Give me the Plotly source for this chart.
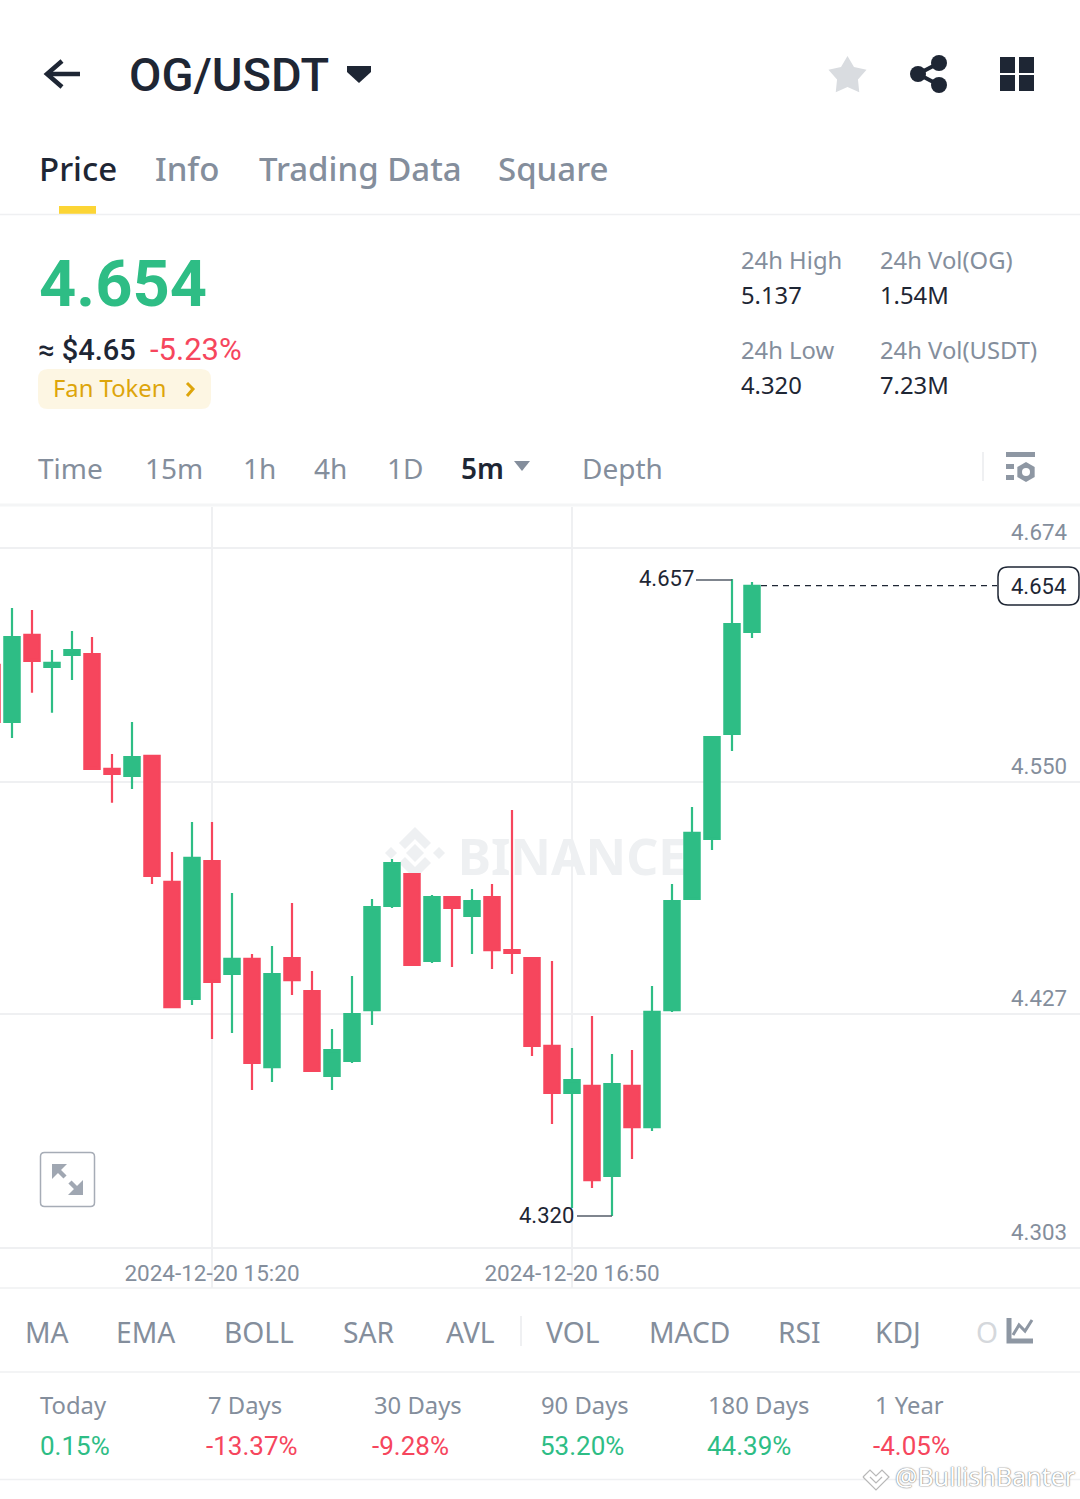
import math
import pandas as pd
import plotly.graph_objects as go

W = 1080
H = 1499

# candles, 5 minute bars
times = pd.date_range("2024-12-20 14:25", periods=39, freq="5min")
opens = [4.6120, 4.5818, 4.6279, 4.6109, 4.6173, 4.6178, 4.5569, 4.5532, 4.5638, 4.4970,
         4.4350, 4.5081, 4.4482, 4.4562, 4.3989, 4.4567, 4.4392, 4.3942, 4.4021, 4.4291,
         4.4843, 4.5012, 4.4551, 4.4890, 4.4790, 4.4890, 4.4609, 4.4567, 4.4101, 4.3852,
         4.3889, 4.3412, 4.3889, 4.3671, 4.4291, 4.4880, 4.5198, 4.5754, 4.6295]
highs = [4.6120, 4.6422, 4.6411, 4.6199, 4.6300, 4.6268, 4.5648, 4.5818, 4.5638, 4.5129,
         4.5288, 4.5288, 4.4912, 4.4588, 4.4631, 4.4859, 4.4498, 4.4191, 4.4472, 4.4880,
         4.5092, 4.5012, 4.4901, 4.4890, 4.4933, 4.4959, 4.5351, 4.4567, 4.4551, 4.4090,
         4.4260, 4.4058, 4.4079, 4.4419, 4.4959, 4.5367, 4.5738, 4.6576, 4.6560]
lows = [4.5818, 4.5733, 4.5972, 4.5866, 4.6040, 4.5569, 4.5389, 4.5463, 4.4959, 4.4307,
        4.4318, 4.4138, 4.4170, 4.3867, 4.3910, 4.4371, 4.3968, 4.3867, 4.4011, 4.4212,
        4.4832, 4.4530, 4.4541, 4.4519, 4.4588, 4.4509, 4.4482, 4.4048, 4.3687, 4.3242,
        4.3348, 4.3200, 4.3502, 4.3650, 4.4281, 4.4880, 4.5139, 4.5664, 4.6263]
closes = [4.5818, 4.6268, 4.6141, 4.6131, 4.6199, 4.5569, 4.5542, 4.5632, 4.5002, 4.4307,
          4.5097, 4.4440, 4.4562, 4.4011, 4.4482, 4.4450, 4.3968, 4.4079, 4.4270, 4.4837,
          4.5070, 4.4530, 4.4890, 4.4832, 4.4869, 4.4609, 4.4594, 4.4101, 4.3852, 4.3920,
          4.3390, 4.3899, 4.3671, 4.4281, 4.4869, 4.5230, 4.5738, 4.6337, 4.6539]

price_ticks = [4.303, 4.427, 4.550, 4.674]
price_labels = ["4.303", "4.427", "4.550", "4.674"]
time_ticks = ["2024-12-20 15:20", "2024-12-20 16:50"]

high_mark = 4.657
low_mark = 4.320
last_price = 4.654

tabs = ["Price", "Info", "Trading Data", "Square"]
intervals = ["Time", "15m", "1h", "4h", "1D", "5m", "Depth"]
indicators = ["MA", "EMA", "BOLL", "SAR", "AVL", "VOL", "MACD", "RSI", "KDJ"]
periods = ["Today", "7 Days", "30 Days", "90 Days", "180 Days", "1 Year"]
period_changes = ["0.15%", "-13.37%", "-9.28%", "53.20%", "44.39%", "-4.05%"]

GREEN = "#2EBD85"
RED = "#F6465D"
DARK = "#1E2634"
GREY = "#848E9C"
LINE = "#EFF0F2"
FONT = "Noto Sans"
DIN = "Roboto"

CHART_TOP = 507
CHART_BOTTOM = 1288
y_range = [4.2818, 4.6957]
x_range = ["2024-12-20 14:27", "2024-12-20 18:57"]


def px(x):
    return x / W


def py(y):
    return 1 - y / H


def poly(points, close=True):
    d = "M " + " L ".join(f"{px(x):.5f} {py(y):.5f}" for x, y in points)
    return d + (" Z" if close else "")


def rounded(x0, y0, x1, y1, r):
    return (
        f"M {px(x0 + r):.5f} {py(y0):.5f} L {px(x1 - r):.5f} {py(y0):.5f} "
        f"Q {px(x1):.5f} {py(y0):.5f} {px(x1):.5f} {py(y0 + r):.5f} "
        f"L {px(x1):.5f} {py(y1 - r):.5f} Q {px(x1):.5f} {py(y1):.5f} {px(x1 - r):.5f} {py(y1):.5f} "
        f"L {px(x0 + r):.5f} {py(y1):.5f} Q {px(x0):.5f} {py(y1):.5f} {px(x0):.5f} {py(y1 - r):.5f} "
        f"L {px(x0):.5f} {py(y0 + r):.5f} Q {px(x0):.5f} {py(y0):.5f} {px(x0 + r):.5f} {py(y0):.5f} Z"
    )


shapes = []
annotations = []


def fill(path, color, layer="above"):
    shapes.append(dict(type="path", xref="paper", yref="paper", path=path, fillcolor=color,
                       line=dict(width=0), layer=layer))


def stroke(path, color, width, fillcolor="rgba(0,0,0,0)"):
    shapes.append(dict(type="path", xref="paper", yref="paper", path=path, fillcolor=fillcolor,
                       line=dict(color=color, width=width)))


def hline(y, color=LINE, width=1.5, x0=0, x1=W):
    stroke(poly([(x0, y), (x1, y)], close=False), color, width)


def circle(cx, cy, r, color):
    shapes.append(dict(type="circle", xref="paper", yref="paper", x0=px(cx - r), x1=px(cx + r),
                       y0=py(cy + r), y1=py(cy - r), fillcolor=color, line=dict(width=0)))


def label(x, y, text, size, color=GREY, weight=400, family=FONT, anchor="left", **font_extra):
    # annotations carry a little padding, and Noto Sans sits a bit low
    x = x - 1.5
    if family == FONT:
        y = y - 1
    annotations.append(dict(xref="paper", yref="paper", x=px(x), y=py(y), text=text, showarrow=False,
                            xanchor=anchor, yanchor="middle", borderpad=0,
                            font=dict(family=family, size=size, color=color, weight=weight, **font_extra)))


# header
stroke(poly([(47, 74), (80, 74)], close=False), DARK, 4.5)
stroke(poly([(62, 61), (47, 74), (62, 87)], close=False), DARK, 4.5)
label(129, 75, "OG/USDT", 47, DARK, 500, DIN)
fill(poly([(347, 66), (371, 66), (371, 72), (359, 83), (347, 72)]), DARK)

star = []
for i in range(10):
    r = 20 if i % 2 == 0 else 11
    a = -math.pi / 2 + i * math.pi / 5
    star.append((847.5 + r * math.cos(a), 76 + r * math.sin(a)))
fill(poly(star), "#D9DCE0")

stroke(poly([(939, 63), (918, 74), (939, 85)], close=False), DARK, 4)
circle(939, 63, 8, DARK)
circle(918, 74, 8, DARK)
circle(939, 85, 8, DARK)
for x0 in (1000, 1019):
    for y0 in (57, 75):
        fill(poly([(x0, y0), (x0 + 15, y0), (x0 + 15, y0 + 16), (x0, y0 + 16)]), DARK)

# tabs
for x, name in zip([39, 155, 259, 498], tabs):
    label(x, 169, name, 33, DARK if name == "Price" else GREY, 500)
fill(poly([(59, 206), (96, 206), (96, 214), (59, 214)]), "#FCD535")
hline(214.5)

# price block
label(39, 284, "4.654", 65, GREEN, 700, DIN)
label(38, 350, "≈ $4.65", 29, DARK, 500, DIN)
label(150, 350, "-5.23%", 31, RED, 400, DIN)
fill(rounded(38, 369, 211, 409, 10), "#FDF6E3")
label(53, 389, "Fan Token", 23.8, "#DDA50B")
stroke(poly([(187, 383), (193, 389), (187, 396)], close=False), "#DDA50B", 3)

label(741, 261, "24h High", 23.8)
label(741, 296, "5.137", 23.8, DARK)
label(741, 351, "24h Low", 23.8)
label(741, 386, "4.320", 23.8, DARK)
label(880, 261, "24h Vol(OG)", 23.8)
label(880, 296, "1.54M", 23.8, DARK)
label(880, 351, "24h Vol(USDT)", 23.8)
label(880, 386, "7.23M", 23.8, DARK)

# interval row
for x, name in zip([38, 145, 243, 314, 387, 461, 582], intervals):
    if name == "5m":
        label(x, 469, name, 28, DARK, 600)
    else:
        label(x, 469, name, 28)
fill(poly([(514, 461), (530, 461), (522, 471)]), GREY)
stroke(poly([(983, 452), (983, 481)], close=False), LINE, 2)
fill(poly([(1006, 452), (1035, 452), (1035, 457), (1006, 457)]), "#8E97A3")
fill(poly([(1006, 464), (1014, 464), (1014, 469), (1006, 469)]), "#8E97A3")
fill(poly([(1006, 475), (1014, 475), (1014, 480), (1006, 480)]), "#8E97A3")
nut = [(1026 + 10 * math.cos(math.pi / 6 + i * math.pi / 3), 472 + 10 * math.sin(math.pi / 6 + i * math.pi / 3))
       for i in range(6)]
fill(poly(nut), "#8E97A3")
circle(1026, 472, 4, "#FFFFFF")
hline(505, "#F4F5F6", 3)

# watermark logo, under the candles
logo = "#EEF0F2"
fill(poly([(415, 827), (431, 843), (425, 849), (415, 839), (405, 849), (399, 843)]), logo, "below")
fill(poly([(415, 879), (431, 863), (425, 857), (415, 867), (405, 857), (399, 863)]), logo, "below")
fill(poly([(385, 853), (391, 847), (397, 853), (391, 859)]), logo, "below")
fill(poly([(433, 853), (439, 847), (445, 853), (439, 859)]), logo, "below")
fill(poly([(415, 844), (424, 853), (415, 862), (406, 853)]), logo, "below")

# marks on the chart
label(639, 578, f"{high_mark:.3f}", 22, DARK, 400, DIN)
shapes.append(dict(type="line", xref="paper", yref="y", x0=px(696), x1=px(732), y0=high_mark, y1=high_mark,
                   line=dict(color="#555C68", width=1.5)))
label(519, 1215, f"{low_mark:.3f}", 22, DARK, 400, DIN)
shapes.append(dict(type="line", xref="paper", yref="y", x0=px(577), x1=px(612), y0=low_mark, y1=low_mark,
                   line=dict(color="#555C68", width=1.5)))
shapes.append(dict(type="line", xref="paper", yref="y", x0=px(761), x1=px(997), y0=last_price, y1=last_price,
                   line=dict(color=DARK, width=1.3, dash="6px,5px")))
stroke(rounded(998, 567, 1079, 605, 10), DARK, 1.5, "#FFFFFF")
label(1011, 586, f"{last_price:.3f}", 22, DARK, 400, DIN)

# expand button
stroke(rounded(40.5, 1152.5, 94.5, 1206.5, 4), "#A6ACB6", 1.5)
fill(poly([(52, 1164), (67, 1164), (52, 1179)]), "#A0A7B2")
fill(poly([(83, 1195), (68, 1195), (83, 1180)]), "#A0A7B2")
stroke(poly([(57, 1169), (65, 1177)], close=False), "#A0A7B2", 4.5)
stroke(poly([(78, 1190), (70, 1182)], close=False), "#A0A7B2", 4.5)

# indicator row
hline(1288)
for x, name in zip([25, 116, 224, 343, 446, 547, 649, 778, 875], indicators):
    label(x, 1333, name, 28.2)
stroke(poly([(521, 1316), (521, 1346)], close=False), LINE, 2)
label(976, 1333, "O", 28.2, "#D5D8DC")
stroke(poly([(1009, 1318), (1009, 1341), (1033, 1341)], close=False), "#8E97A3", 5)
stroke(poly([(1013, 1335), (1019, 1325), (1025, 1331), (1032, 1320)], close=False), "#8E97A3", 3)
hline(1372)

# performance row
for x, name in zip([40, 208, 374, 541, 708, 875], periods):
    label(x, 1406, name, 23.8)
for x, value in zip([40, 206, 372, 540, 707, 873], period_changes):
    label(x, 1446, value, 26, RED if value.startswith("-") else GREEN, 400, DIN)
hline(1479.5)

# repost stamp
stamp = "#B8B8B8"
stroke(poly([(863, 1477), (870, 1470), (876, 1476), (882, 1470), (889, 1477), (876, 1490), (863, 1477)], close=False),
       stamp, 1.2, "#FFFFFF")
stroke(poly([(870, 1477), (876, 1483), (882, 1477)], close=False), stamp, 1.2)
label(895, 1477, "@BullishBanter", 25, "#FFFFFF", 400, FONT, shadow="0 0 1.5px #777, 0 0 1px #777")

fig = go.Figure()

# watermark word stays on the base axis so the candles on y2 draw over it
fig.add_trace(go.Scatter(
    x=["2024-12-20 16:50"], y=[4.5072], mode="text", text=["BINANCE"],
    textposition="middle center", cliponaxis=False, hoverinfo="skip", showlegend=False,
    textfont=dict(family=FONT, size=50, color="#EEF0F2", weight=700),
))

fig.add_trace(go.Candlestick(
    x=times, open=opens, high=highs, low=lows, close=closes, yaxis="y2", showlegend=False,
    increasing=dict(line=dict(color=GREEN, width=2.2), fillcolor=GREEN),
    decreasing=dict(line=dict(color=RED, width=2.2), fillcolor=RED),
    whiskerwidth=0,
))

y_domain = [py(CHART_BOTTOM), py(CHART_TOP)]

fig.update_layout(
    width=W,
    height=H,
    margin=dict(l=0, r=0, t=0, b=0),
    paper_bgcolor="#FFFFFF",
    plot_bgcolor="#FFFFFF",
    showlegend=False,
    boxgap=0.235,
    boxgroupgap=0,
    shapes=shapes,
    annotations=annotations,
    xaxis=dict(
        type="date", range=x_range, rangeslider=dict(visible=False), domain=[0, 1],
        tickmode="array", tickvals=time_ticks, ticktext=time_ticks, ticklabelposition="inside",
        showgrid=True, gridcolor=LINE, gridwidth=1.5, zeroline=False, showline=False, ticks="",
        tickfont=dict(family=DIN, size=22.5, color=GREY),
    ),
    yaxis=dict(
        range=y_range, domain=y_domain, side="right", tickmode="array",
        tickvals=price_ticks, ticktext=price_labels, ticklabelposition="inside top",
        ticklabelstandoff=10,
        showgrid=True, gridcolor=LINE, gridwidth=1.5, zeroline=False, showline=False, ticks="",
        tickfont=dict(family=DIN, size=22.3, color=GREY),
    ),
    yaxis2=dict(range=y_range, domain=y_domain, overlaying="y", side="right", visible=False, showgrid=False),
)

fig.write_html("out.html", config=dict(displayModeBar=False),
               post_script="document.body.style.margin='0';")
